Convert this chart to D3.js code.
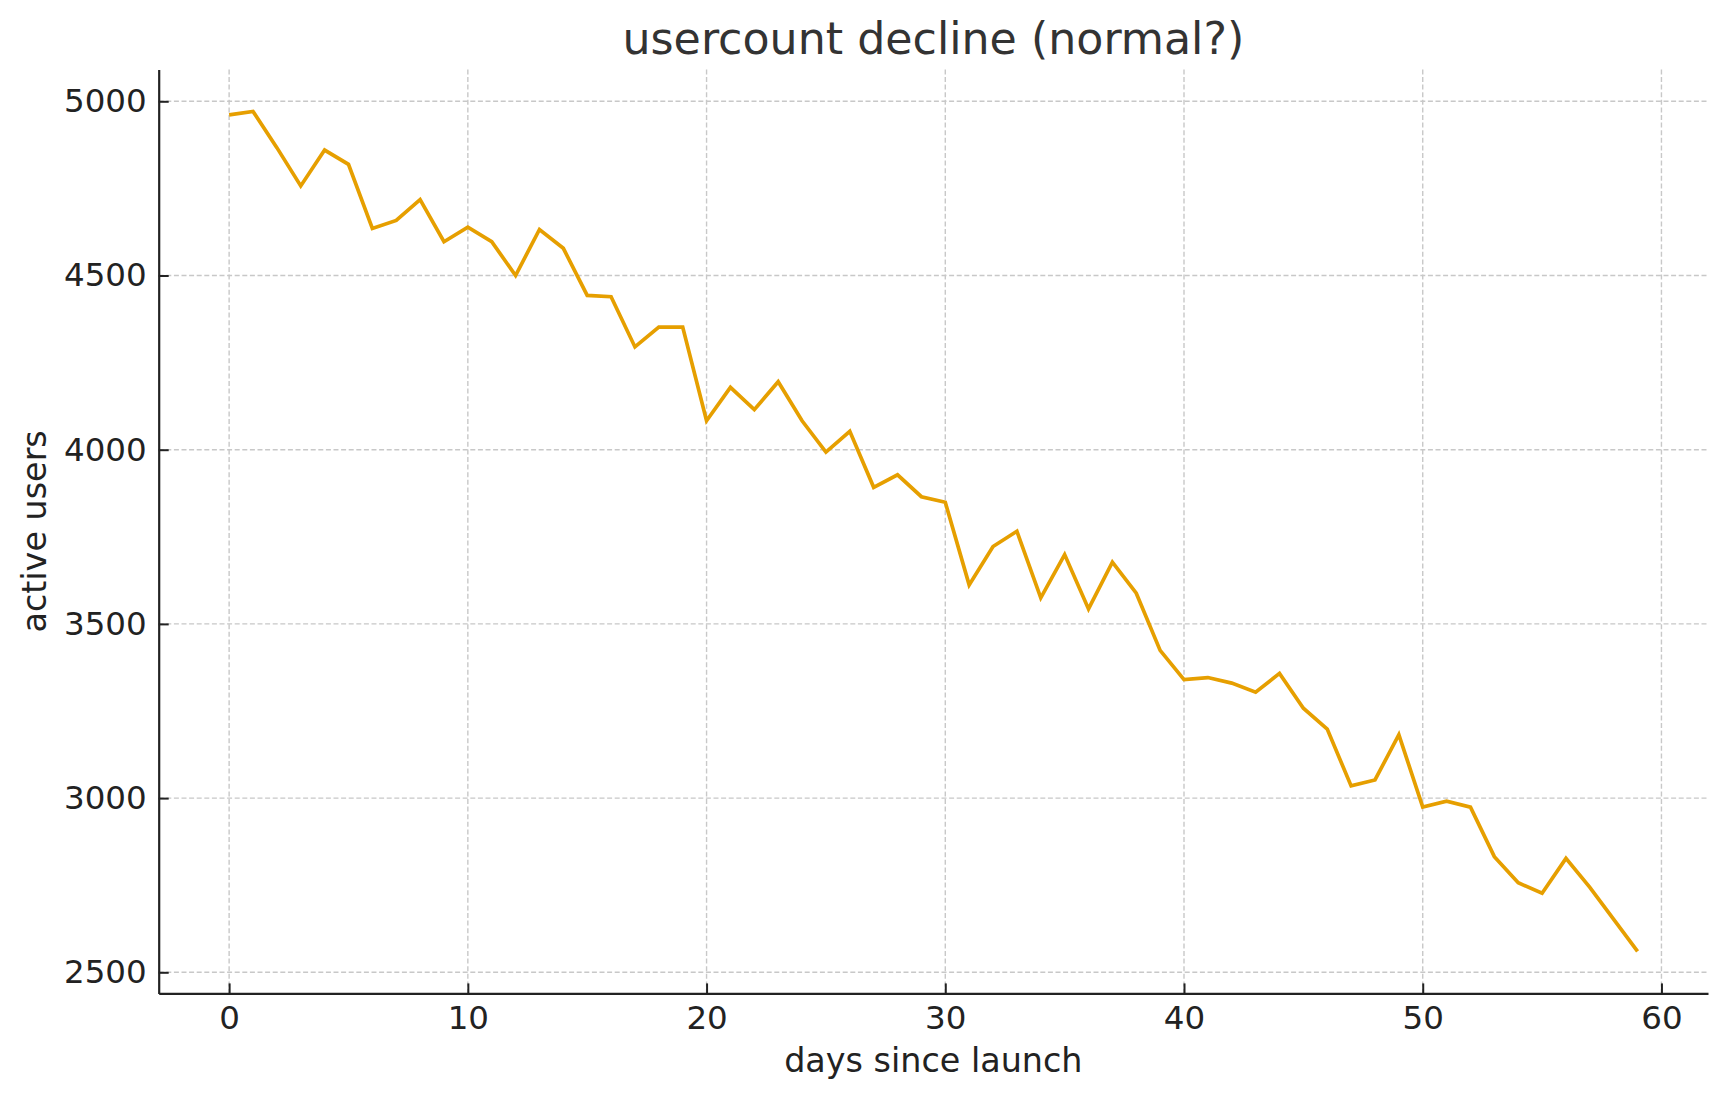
<!DOCTYPE html>
<html>
<head>
<meta charset="utf-8">
<script src="https://cdn.jsdelivr.net/npm/d3@7"></script>
<style>
  body { margin: 0; background: #fff; }
  text { font-family: "DejaVu Sans", sans-serif; }
</style>
</head>
<body>
<div id="chart"></div>
<script>
// days since launch
let days = d3.range(0, 60);
// active users
let users = [
  4961, 4971, 4867, 4757, 4860, 4819, 4635, 4658, 4718, 4597,
  4639, 4597, 4500, 4632, 4578, 4443, 4439, 4295, 4352, 4352,
  4083, 4179, 4115, 4195, 4083, 3993, 4053, 3892, 3928, 3865,
  3849, 3612, 3722, 3766, 3575, 3699, 3543, 3677, 3588, 3424,
  3340, 3346, 3330, 3304, 3358, 3258, 3198, 3035, 3052, 3182,
  2974, 2991, 2974, 2832, 2757, 2727, 2827, 2744, 2652, 2560
];
let xTicks = [0, 10, 20, 30, 40, 50, 60];
let yTicks = [2500, 3000, 3500, 4000, 4500, 5000];

let title = "usercount decline (normal?)";
let xLabel = "days since launch";
let yLabel = "active users";

function config(){
    let width = 1728;
    let height = 1101;
    let margin = { top: 69.4, bottom: 107.6, left: 158.7, right: 20 };
    let bodyWidth = width - margin.left - margin.right;
    let bodyHeight = height - margin.top - margin.bottom;
    let svg = d3.select("#chart")
                .append("svg")
                .attr("width", width)
                .attr("height", height);
    let container = svg.append("g")
                .attr("transform", "translate(" + [margin.left, margin.top] + ")");
    return { width, height, margin, bodyWidth, bodyHeight, svg, container };
}

function scales(cfg){
    let { bodyWidth, bodyHeight } = cfg;
    // matplotlib style 5% padding
    let xPad = (d3.max(days) - d3.min(days)) * 0.05;
    let yPad = (d3.max(users) - d3.min(users)) * 0.05;
    let xScale = d3.scaleLinear()
                .domain([d3.min(days) - xPad, d3.max(days) + xPad])
                .range([0, bodyWidth]);
    let yScale = d3.scaleLinear()
                .domain([d3.min(users) - yPad, d3.max(users) + yPad])
                .range([bodyHeight, 0]);
    return { xScale, yScale };
}

function drawGrid(cfg, sc){
    let { container, bodyWidth, bodyHeight } = cfg;
    let { xScale, yScale } = sc;
    let grid = container.append("g")
                .attr("stroke", "#c8c8c8")
                .attr("stroke-width", 1.4)
                .attr("stroke-dasharray", "5,2.6");
    grid.selectAll(".vg")
        .data(xTicks)
        .enter()
        .append("line")
        .attr("x1", d => xScale(d)).attr("x2", d => xScale(d))
        .attr("y1", 0).attr("y2", bodyHeight);
    grid.selectAll(".hg")
        .data(yTicks)
        .enter()
        .append("line")
        .attr("x1", 0).attr("x2", bodyWidth)
        .attr("y1", d => yScale(d)).attr("y2", d => yScale(d));
}

function drawAxes(cfg, sc){
    let { container, bodyHeight } = cfg;
    let { xScale, yScale } = sc;
    let fmt = d3.format("d");
    let xAxis = container.append("g")
            .attr("transform", "translate(0," + bodyHeight + ")")
            .call(d3.axisBottom(xScale).tickValues(xTicks).tickFormat(fmt)
                  .tickSizeInner(-10).tickSizeOuter(0).tickPadding(12.5));
    let yAxis = container.append("g")
            .call(d3.axisLeft(yScale).tickValues(yTicks).tickFormat(fmt)
                  .tickSizeInner(-10).tickSizeOuter(0).tickPadding(12));
    [xAxis, yAxis].forEach(a => {
        a.select(".domain").attr("stroke", "#222").attr("stroke-width", 2.2);
        a.selectAll(".tick line").attr("stroke", "#222").attr("stroke-width", 2);
        a.selectAll(".tick text")
            .attr("fill", "#222")
            .style("font-size", "32.5px")
            .style("font-family", "DejaVu Sans");
    });
}

function drawLine(cfg, sc){
    let { container } = cfg;
    let { xScale, yScale } = sc;
    let line = d3.line()
            .x((d, i) => xScale(days[i]))
            .y(d => yScale(d));
    container.append("path")
            .datum(users)
            .attr("fill", "none")
            .attr("stroke", "#E69F00")
            .attr("stroke-width", 3.7)
            .attr("stroke-linejoin", "miter")
            .attr("d", line);
}

function drawLabels(cfg){
    let { svg, margin, bodyWidth, bodyHeight } = cfg;
    let cx = margin.left + bodyWidth / 2;
    svg.append("text")
        .attr("x", cx)
        .attr("y", 54)
        .attr("text-anchor", "middle")
        .attr("fill", "#333")
        .style("font-size", "44.3px")
        .text(title);
    svg.append("text")
        .attr("x", cx)
        .attr("y", 1072)
        .attr("text-anchor", "middle")
        .attr("fill", "#222")
        .style("font-size", "33.4px")
        .text(xLabel);
    svg.append("text")
        .attr("transform", "translate(46," + (margin.top + bodyHeight / 2) + ") rotate(-90)")
        .attr("text-anchor", "middle")
        .attr("fill", "#222")
        .style("font-size", "33.4px")
        .text(yLabel);
}

let cfg = config();
let sc = scales(cfg);
drawGrid(cfg, sc);
drawLine(cfg, sc);
drawAxes(cfg, sc);
drawLabels(cfg);
</script>
</body>
</html>
